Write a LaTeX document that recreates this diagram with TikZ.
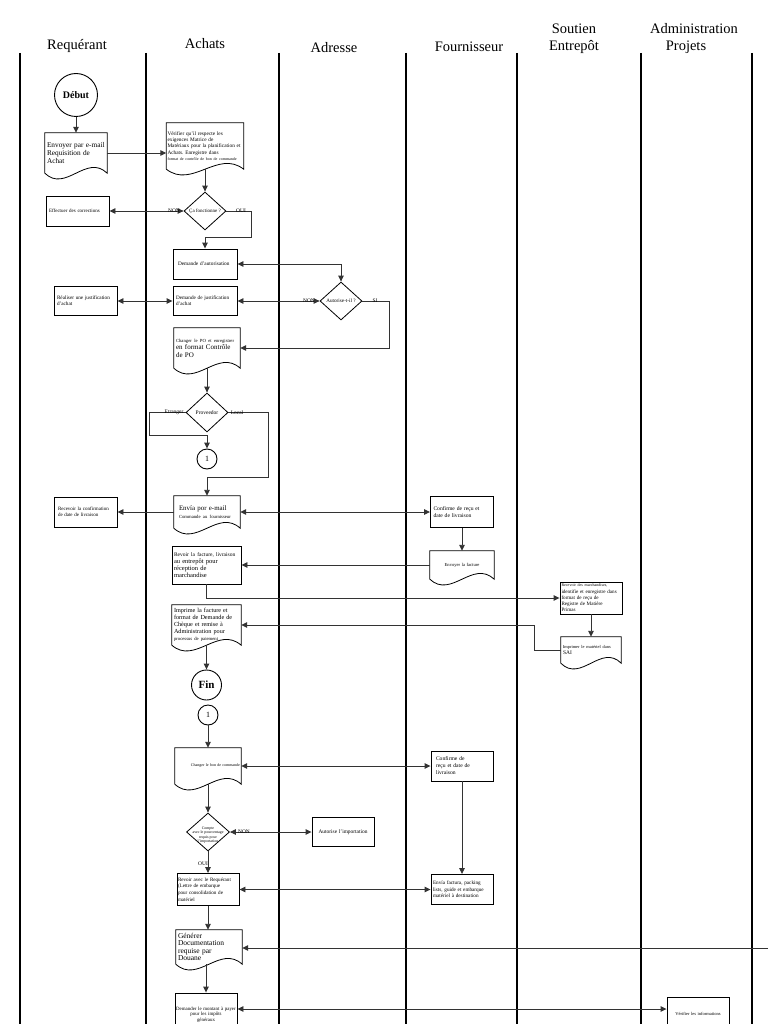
\documentclass[tikz,border=0pt]{standalone}
\usepackage{fontspec}
\setmainfont{Liberation Serif}
\usetikzlibrary{arrows.meta,shapes.geometric,calc}
\newcommand{\fs}[2]{\fontsize{#1}{#2}\selectfont}
\newcommand{\docout}[1]{%
  \draw[line width=0.8pt] let \p1=(#1.north west), \p2=(#1.south east),
     \p3=($(#1.south east)!0.333!(#1.south west)$),
     \p4=($(#1.south east)!0.667!(#1.south west)$) in
     (\x1,\y2) -- (\x1,\y1) -- (\x2,\y1) -- (\x2,\y2)
     .. controls (\x3,\y3+20pt) and (\x4,\y4-20pt) .. cycle;}
\begin{document}
\frenchspacing
\hyphenpenalty=10000
\exhyphenpenalty=10000
\begin{tikzpicture}[x=1pt,y=-1pt,
  lane/.style={line width=1.1pt},
  hdr/.style={font=\fs{14.5}{17}, align=center, inner sep=0pt},
  bx/.style={draw, line width=0.9pt, inner ysep=0pt, align=left},
  docn/.style={inner ysep=0pt, align=left},
  dia/.style={diamond, draw, line width=0.8pt, inner sep=0pt},
  term/.style={circle, draw, line width=0.9pt, inner sep=0pt},
  con/.style={draw=black!80, line width=0.9pt},
  arr/.style={con, -{Triangle[length=6pt,width=5.5pt]}},
  darr/.style={con, {Triangle[length=6pt,width=5.5pt]}-{Triangle[length=6pt,width=5.5pt]}},
  lbl/.style={font=\fs{5.4}{6}, inner sep=0pt},
]
\useasboundingbox (0,0) rectangle (768,1024);
\fill[white] (0,0) rectangle (768,1024);
\begin{scope}
\clip (0,0) rectangle (768,1024);
% headers
\node[hdr] (hreq) at (77,46) {Requérant};
\node[hdr] (hach) at (205,44) {Achats};
\node[hdr] (hadr) at (334,48) {Adresse};
\node[hdr] (hfou) at (469,47) {Fournisseur};
\node[hdr] (hsou) at (574,38.5) {Soutien\\Entrepôt};
\node[hdr] (hadm) at (694,38.5) {Administration\\Projets\hspace*{16pt}};
% lanes
\foreach \lx in {20,146,279,406,517,641,752} \draw[lane] (\lx,53) -- (\lx,1024);

% nodes
\node[term, minimum size=43pt, font=\fs{10}{12}\bfseries] (debut) at (76,95) {Début};
\node[docn, minimum width=62pt, minimum height=40pt, inner xsep=2pt, text width=58pt, font=\fs{7.3}{7.6}] (req) at (76,153) {Envoyer par e-mail\\Requisition de\\Achat};
\docout{req}
\node[docn, minimum width=77pt, minimum height=46pt, inner xsep=1pt, text width=75pt, font=\fs{5.3}{6.2}] (verif) at (205,146) {Vérifier qu'il respecte les\\exigences Matrice de\\Matériaux pour la planification et\\Achats. Enregistre dans\\{\fs{4}{6.2}format de contrôle de bon de commande}};
\docout{verif}
\node[dia, minimum width=42pt, minimum height=38pt, label={[font=\fs{5}{6}]center:Ça fonctionne ?}] (d1) at (205,211) {};
\node[bx, minimum width=63pt, minimum height=30pt, inner xsep=3pt, text width=57pt, font=\fs{5}{6}] (corr) at (77.5,211) {Effectuer des corrections};
\node[bx, minimum width=64pt, minimum height=30pt, inner xsep=5pt, text width=54pt, font=\fs{5.3}{6}] (autor) at (205,264) {Demande d'autorisation};
\node[dia, minimum width=42pt, minimum height=38pt, label={[font=\fs{5.2}{6}]center:Autorise-t-il ?}] (d2) at (341,301) {};
\node[bx, minimum width=64pt, minimum height=29pt, inner xsep=3pt, text width=58pt, font=\fs{5.2}{6.3}] (djust) at (205,301) {Demande de justification\\d'achat};
\node[bx, minimum width=63pt, minimum height=29pt, inner xsep=3pt, text width=57pt, font=\fs{5.2}{6.3}] (rjust) at (85.5,301) {Réaliser une justification\\d'achat};
\node[docn, minimum width=66pt, minimum height=40pt, inner xsep=2pt, text width=62pt, font=\fs{7}{7.5}] (chpo) at (207,348) {{\fs{4.7}{7.5}Changer le PO et enregistrer}\\en format Contrôle\\de PO};
\docout{chpo}
\node[dia, minimum width=42pt, minimum height=39pt, label={[font=\fs{5.5}{6}]center:Proveedor}] (d3) at (207,412.5) {};
\node[term, minimum size=20pt, font=\fs{8}{8}] (c1) at (207,459) {1};
\node[docn, minimum width=66pt, minimum height=32pt, inner xsep=5pt, text width=56pt, font=\fs{6.9}{8}] (envia) at (207,512) {Envía por e-mail\\{\fs{4.7}{8}Commande au fournisseur}};
\docout{envia}
\node[bx, minimum width=63pt, minimum height=30pt, inner xsep=4pt, text width=55pt, font=\fs{5}{6}] (rconf) at (85.5,512) {Recevoir la confirmation\\de date de livraison};
\node[bx, minimum width=63pt, minimum height=31pt, inner xsep=3pt, text width=57pt, font=\fs{5.6}{6.3}] (conf1) at (462,512) {Confirme de reçu et\\date de livraison};
\node[docn, minimum width=64pt, minimum height=28pt, inner xsep=2pt, text width=60pt, align=center, font=\fs{4.6}{6}] (envf) at (462,565) {Envoyer la facture};
\docout{envf}
\node[bx, minimum width=69pt, minimum height=38pt, inner xsep=2pt, text width=65pt, font=\fs{6.5}{7}] (revf) at (206.5,565) {{\fs{5.5}{7}Revoir la facture, livraison}\\au entrepôt pour\\réception de\\marchandise};
\node[bx, minimum width=62pt, minimum height=32pt, inner xsep=1.5pt, text width=59pt, font=\fs{5.1}{6.2}] (recm) at (591,598) {{\fs{4}{6.2}Recevoir des marchandises,}\\identifie et enregistre dans\\format de reçu de\\Registre de Matière\\Primas};
\node[docn, minimum width=60pt, minimum height=26pt, inner xsep=2pt, text width=56pt, font=\fs{5.5}{6}] (imps) at (591,650) {{\fs{4.4}{6}Imprimer le matériel dans}\\SAI};
\docout{imps}
\node[docn, minimum width=69pt, minimum height=40pt, inner xsep=2pt, text width=65pt, font=\fs{6.2}{7}] (impf) at (206.5,625) {Imprime la facture et\\format de Demande de\\Chèque et remise à\\Administration pour\\{\fs{4.7}{7}processus de paiement}};
\docout{impf}
\node[term, minimum size=30pt, font=\fs{11}{12}\bfseries] (fin) at (206.5,685) {Fin};
\node[term, minimum size=20pt, font=\fs{8}{8}] (c1b) at (208,715) {1};
\node[docn, minimum width=66pt, minimum height=36pt, inner xsep=1pt, text width=64pt, align=right, font=\fs{4}{5}] (chbc) at (208,766) {Changer le bon de commande};
\docout{chbc}
\node[bx, minimum width=62pt, minimum height=30pt, inner xsep=5pt, text width=52pt, font=\fs{5.6}{7}] (conf2) at (462,766) {Confirme de\\reçu et date de\\livraison};
\node[dia, minimum width=43pt, minimum height=38pt, label={[font=\fs{3.9}{4.4}, align=center, yshift=-3pt]center:Compte\\avec le pourcentage\\requis pour\\l'importation}] (d4) at (208,832) {};
\node[bx, minimum width=62pt, minimum height=29pt, inner xsep=2pt, text width=58pt, align=center, font=\fs{5.4}{6}] (autimp) at (343,832) {Autorise l'importation};
\node[bx, minimum width=62pt, minimum height=32pt, inner xsep=1pt, text width=60pt, font=\fs{5.1}{6.7}] (revreq) at (208,889.5) {Revoir avec le Requérant\\(Lettre de embarque\\pour consolidation de\\matériel};
\node[bx, minimum width=62pt, minimum height=30pt, inner xsep=2pt, text width=58pt, font=\fs{5.2}{6.6}] (envfac) at (462,889.5) {Envía factura, packing\\lists, guide et embarque\\matériel à destination};
\node[docn, minimum width=66pt, minimum height=34pt, inner xsep=2pt, text width=62pt, font=\fs{7.5}{7.3}] (gen) at (209,947) {Générer\\Documentation\\requise par\\Douane};
\docout{gen}
\node[bx, minimum width=62pt, minimum height=43pt, inner xsep=0pt, text width=62pt, align=center, font=\fs{4.9}{5.6}] (dmont) at (206,1014.5) {Demander le montant à payer\\pour les impôts\\généraux};
\node[bx, minimum width=62pt, minimum height=34pt, inner xsep=2pt, text width=58pt, align=center, font=\fs{4.5}{5}] (verinf) at (698,1014) {Vérifier les informations};

% connectors
\draw[arr] (debut) -- (req);
\draw[arr] (req.east) -- (req.east -| verif.west);
\draw[arr] (verif.south) -- (d1.north);
\draw[darr] (d1.west) -- (corr.east);
\draw[arr] (d1.east) -- ++(25,0) -- ++(0,26) -| (autor.north);
\draw[darr] (autor.east) -| (d2.north);
\draw[darr] (d2.west) -- (djust.east);
\draw[darr] (rjust.east) -- (djust.west);
\draw[arr] (d2.east) -- ++(27,0) |- (chpo.east);
\draw[arr] (chpo.south) -- (d3.north);
\draw[arr] (d3.west) -- ++(-36,0) -- ++(0,23) -| (c1.north);
\draw[arr] (d3.east) -- ++(40,0) -- ++(0,65) -| (envia.north);
\draw[arr] (envia.west) -- (rconf.east);
\draw[darr] (envia.east) -- (conf1.west);
\draw[arr] (conf1.south) -- (envf.north);
\draw[arr] (envf.west) -- (revf.east);
\draw[arr] (revf.south) |- (recm.west);
\draw[arr] (recm.south) -- (imps.north);
\draw[arr] (imps.west) -- ++(-26,0) |- (impf.east);
\draw[arr] (impf.south) -- (fin.north);
\draw[arr] (c1b.south) -- (chbc.north);
\draw[darr] (chbc.east) -- (conf2.west);
\draw[arr] (chbc.south) -- (d4.north);
\draw[darr] (d4.east) -- (autimp.west);
\draw[arr] (d4.south) -- (revreq.north);
\draw[arr] (conf2.south) -- (envfac.north);
\draw[darr] (revreq.east) -- (envfac.west);
\draw[arr] (revreq.south) -- (revreq.south |- gen.north);
\coordinate (redge) at (768,948);
\draw[arr] (redge) -- (redge -| gen.east);
\draw[arr] (dmont.north |- gen.south) -- (dmont.north);
\path ([yshift=5.5pt]dmont.east) coordinate (dm1);
\draw[darr] (dm1) -- (dm1 -| verinf.west);

% labels
\node[lbl] (lnon1) at (174,211) {NON};
\node[lbl] (loui1) at (241,211) {OUI};
\node[lbl] (lnon2) at (309,301) {NON};
\node[lbl] (lsi) at (375,301) {SI};
\node[lbl] (letr) at (174,412.5) {Etranger};
\node[lbl] (lloc) at (237,412.5) {Local};
\node[lbl] (lnon3) at (244,832) {NON};
\node[lbl] (loui2) at (203,864) {OUI};
\end{scope}
\end{tikzpicture}
\end{document}
